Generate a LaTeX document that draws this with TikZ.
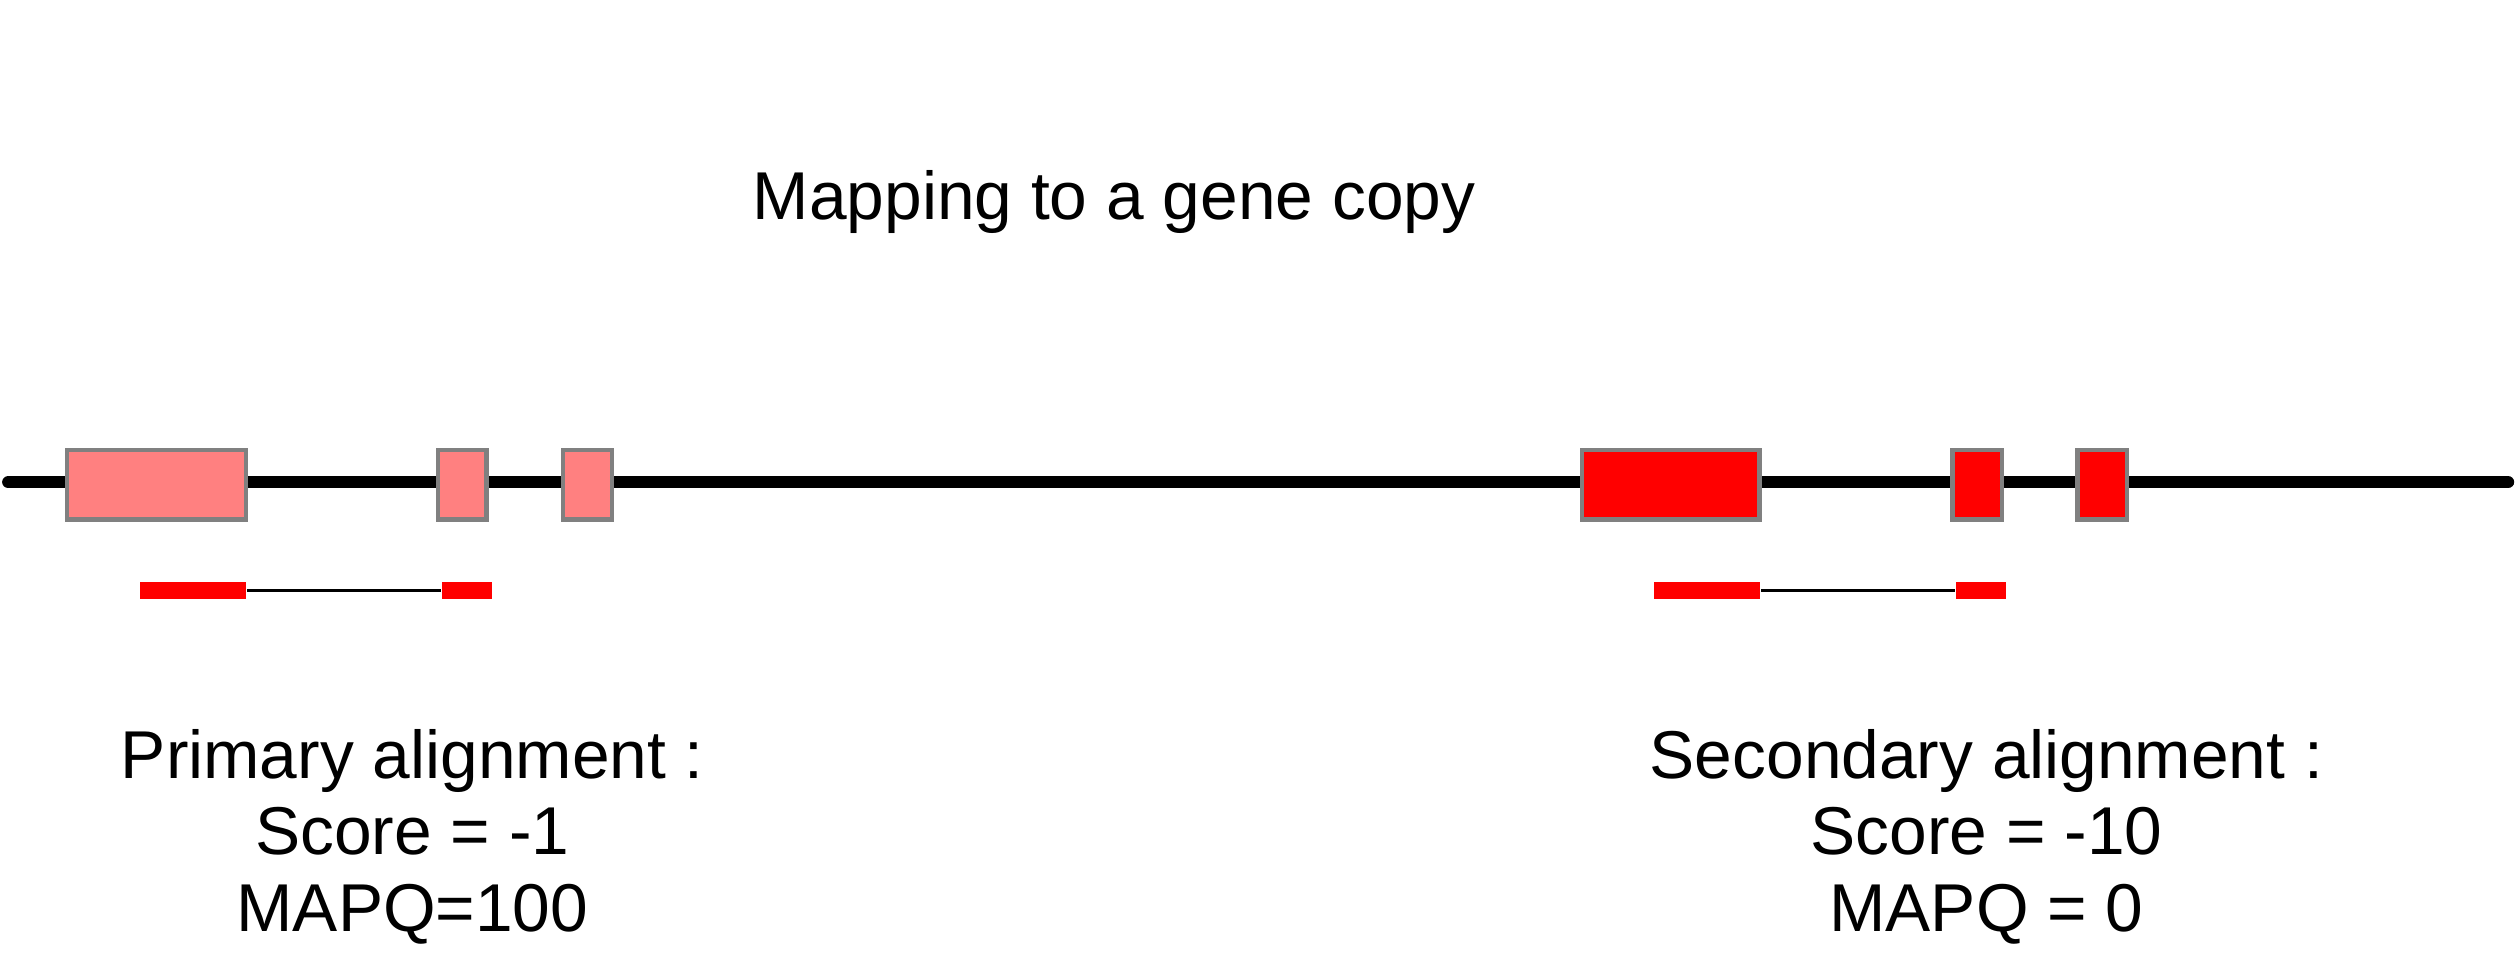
\documentclass[tikz,border=0pt]{standalone}
\usepackage{fontspec}
\setmainfont{Liberation Sans}
\definecolor{exonpink}{HTML}{FF8080}
\definecolor{exonred}{HTML}{FF0000}
\definecolor{exonborder}{HTML}{808080}

\begin{document}
\begin{tikzpicture}[x=0.1mm,y=-0.1mm]
 \useasboundingbox (0,0) rectangle (1568,604.5);
 \tikzstyle{every node} = [font=\fontsize{12}{13.6}\selectfont]
 \node[anchor=base] (title) at (694.3,136.5) {Mapping to a gene copy};
 \coordinate (chrstart) at (5.2,300.5);
 \coordinate (chrend) at (1563,300.5);
 \draw [line width=2.2pt,line cap=round] (chrstart) -- (chrend);
 \tikzstyle{exon} = [draw=exonborder,line width=0.75pt,inner sep=0pt,minimum height=0.436cm]
 \node[exon,fill=exonpink,minimum width=1.117cm] (a1) at (97.5,302) {};
 \node[exon,fill=exonpink,minimum width=0.305cm] (a2) at (288,302) {};
 \node[exon,fill=exonpink,minimum width=0.305cm] (a3) at (366,302) {};
 \node[exon,fill=exonred,minimum width=1.108cm] (b1) at (1041.2,302) {};
 \node[exon,fill=exonred,minimum width=0.309cm] (b2) at (1232.2,302) {};
 \node[exon,fill=exonred,minimum width=0.309cm] (b3) at (1310.2,302) {};
 \tikzstyle{readpart} = [fill=exonred,inner sep=0pt,minimum height=0.106cm]
 \node[readpart,minimum width=0.66cm] (ra1) at (120.3,368) {};
 \node[readpart,minimum width=0.31cm] (ra2) at (291,368) {};
 \node[readpart,minimum width=0.66cm] (rb1) at (1063.8,368) {};
 \node[readpart,minimum width=0.31cm] (rb2) at (1234.5,368) {};
 \draw [line width=0.5pt] (ra1.east) to (ra2.west);
 \draw [line width=0.5pt] (rb1.east) to (rb2.west);
 \node[align=center,anchor=base] (primary) at (257,580.6)
 {Primary alignment :\\Score = -1\\MAPQ=100};
 \node[align=center,anchor=base] (secondary) at (1238,580.6)
 {Secondary alignment :\\Score = -10\\MAPQ = 0};
\end{tikzpicture}
\end{document}
